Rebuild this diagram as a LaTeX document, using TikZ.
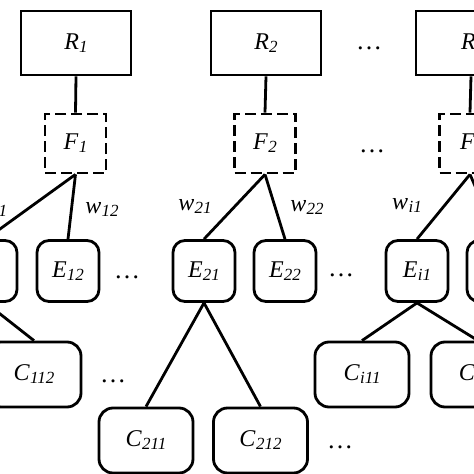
\documentclass[tikz,border=0pt]{standalone}
\usepackage{fontspec}
\setmainfont{Liberation Serif}
\newcommand{\lbl}[2]{\textit{#1}\kern0.3pt\raisebox{-3pt}{\fontsize{17}{17}\selectfont\textit{#2}}}
\begin{document}
\begin{tikzpicture}[x=1pt,y=-1pt,
  every node/.style={font=\fontsize{24}{26}\selectfont, inner sep=0pt},
  rbox/.style={draw, line width=2.8pt, minimum width=110pt, minimum height=64pt},
  fbox/.style={draw, line width=2.8pt, dash pattern=on 11pt off 5pt, minimum width=61pt, minimum height=59pt},
  ebox/.style={draw, line width=2.8pt, rounded corners=12pt, minimum width=62pt, minimum height=61pt},
  cbox/.style={draw, line width=2.8pt, rounded corners=14pt, minimum width=94pt, minimum height=65pt},
  conn/.style={line width=2.8pt},
  dotsl/.style={anchor=base, font=\fontsize{26}{28}\selectfont},
  wl/.style={}
]
\useasboundingbox (0,0) rectangle (474,474);
\clip (0,0) rectangle (474,474);
% top row
\node[rbox] (R1) at (76,43) {\lbl{R}{1}};
\node[rbox] (R2) at (266,43) {\lbl{R}{2}};
\node[rbox] (Ri) at (471,43) {\lbl{R}{i}};
\node[dotsl] (d1) at (369,49) {…};
% F row
\node[fbox] (F1) at (75.5,143.5) {\lbl{F}{1}};
\node[fbox] (F2) at (265,143.5) {\lbl{F}{2}};
\node[fbox] (Fi) at (470,143.5) {\lbl{F}{i}};
\node[dotsl] (d2) at (372,152.5) {…};
% E row
\node[ebox] (E11) at (-14,271) {\lbl{E}{11}};
\node[ebox] (E12) at (68,271) {\lbl{E}{12}};
\node[ebox] (E21) at (204,271) {\lbl{E}{21}};
\node[ebox] (E22) at (285,271) {\lbl{E}{22}};
\node[ebox] (Ei1) at (417,271) {\lbl{E}{i1}};
\node[ebox] (Ei2) at (498,271) {\lbl{E}{i2}};
\node[dotsl] (d3) at (127,278) {…};
\node[dotsl] (d4) at (341,276) {…};
% C row
\node[cbox] (C112) at (34,374.5) {\lbl{C}{112}};
\node[cbox] (C211) at (146,440.5) {\lbl{C}{211}};
\node[cbox] (C212) at (260.5,440.5) {\lbl{C}{212}};
\node[cbox] (Ci11) at (362,374.5) {\lbl{C}{i11}};
\node[cbox] (Ci12) at (478,374.5) {\lbl{C}{i12}};
\node[dotsl] (d5) at (113,382) {…};
\node[dotsl] (d6) at (340,448) {…};
% weight labels
\node[wl] (w11) at (-9,209) {\lbl{w}{11}};
\node[wl] (w12) at (102,209) {\lbl{w}{12}};
\node[wl] (w21) at (195,206) {\lbl{w}{21}};
\node[wl] (w22) at (307,207) {\lbl{w}{22}};
\node[wl] (wi1) at (407,205) {\lbl{w}{i1}};
% connectors
\draw[conn] (R1.south) -- (F1.north);
\draw[conn] (R2.south) -- (F2.north);
\draw[conn] (Ri.south) -- (Fi.north);
\draw[conn] (F1.south) -- (E11.north);
\draw[conn] (F1.south) -- (E12.north);
\draw[conn] (F2.south) -- (E21.north);
\draw[conn] (F2.south) -- (E22.north);
\draw[conn] (Fi.south) -- (Ei1.north);
\draw[conn] (Fi.south) -- (Ei2.north);
\draw[conn] (E11.south) -- (C112.north);
\draw[conn] (E21.south) -- (C211.north);
\draw[conn] (E21.south) -- (C212.north);
\draw[conn] (Ei1.south) -- (Ci11.north);
\draw[conn] (Ei1.south) -- (Ci12.north);
\end{tikzpicture}
\end{document}
